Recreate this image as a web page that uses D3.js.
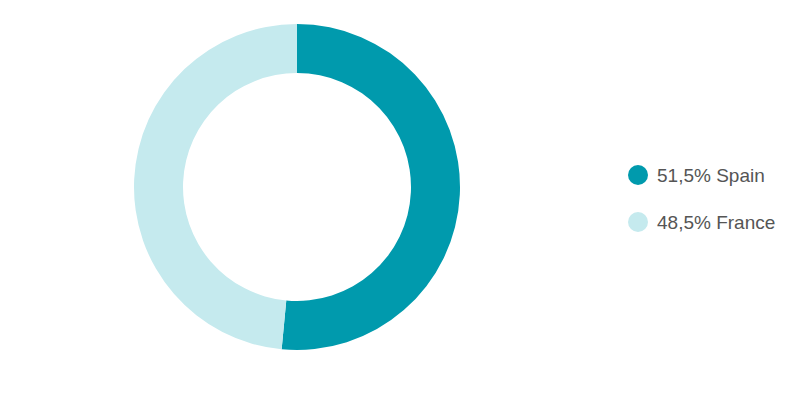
<!DOCTYPE html>
<html lang="en">
  <head>
    <meta charset="UTF-8" />
    <title>Spain vs France</title>
    <style>
      body { margin: 0; background: #fff; }
      svg { display: block; }
      .legend text { font-family: "Liberation Sans", Arial, sans-serif; font-size: 19px; fill: #555; }
    </style>
  </head>
  <body>
    <div id="chart"></div>
    <script src="https://cdn.jsdelivr.net/npm/d3@7"></script>
    <script>
    // data
    var countries = ["Spain", "France"];
    var shares = [51.5, 48.5];
    var colors = ["#009aad", "#c5eaee"];

    var w = 800;
    var h = 400;

    var svg = d3.select("#chart")
                .append("svg")
                .attr("width", w)
                .attr("height", h);

    var data = countries.map(function(c, i) { return { name: c, value: shares[i], color: colors[i] }; });

    var pie = d3.pie()
        .sort(null)
        .value(function(d) { return d.value; });

    var arc = d3.arc()
        .innerRadius(114)
        .outerRadius(163);

    // donut
    var g = svg.append("g")
        .attr("transform", "translate(297,187)");

    g.selectAll("path")
      .data(pie(data))
      .enter()
      .append("path")
        .attr("d", arc)
        .attr("fill", function(d) { return d.data.color; });

    // legend
    var fmt = function(v) { return d3.format(".1f")(v).replace(".", ",") + "%"; };

    var legend = svg.append("g")
        .attr("class", "legend")
        .attr("transform", "translate(638,175)");

    var item = legend.selectAll("g")
      .data(data)
      .enter()
      .append("g")
        .attr("transform", function(d, i) { return "translate(0," + (i * 47) + ")"; });

    item.append("circle")
        .attr("r", 10)
        .attr("fill", function(d) { return d.color; });

    item.append("text")
        .attr("x", 19)
        .attr("y", 7)
        .text(function(d) { return fmt(d.value) + " " + d.name; });
    </script>
  </body>
</html>
